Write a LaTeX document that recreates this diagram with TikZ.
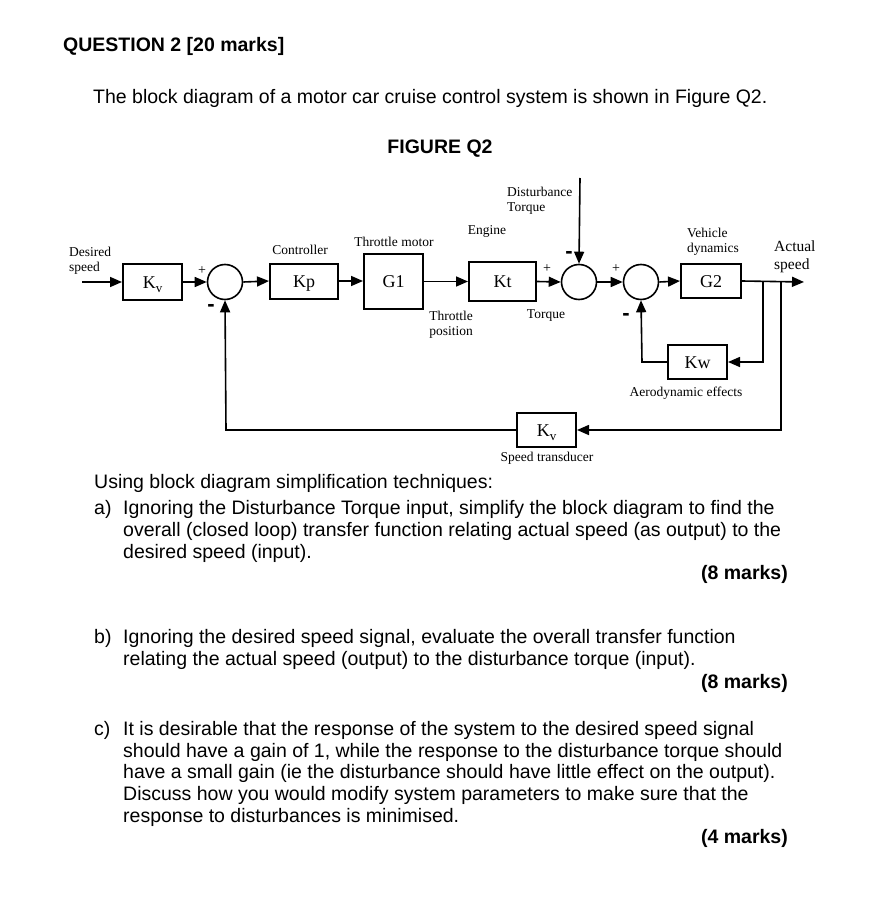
\documentclass[tikz,border=0pt]{standalone}
\usepackage{fontspec}
\setmainfont{Liberation Serif}
\newfontfamily\arialf{Liberation Sans}
\usetikzlibrary{arrows.meta}
\begin{document}
\begin{tikzpicture}[x=1pt,y=-1pt,
  blk/.style={draw, line width=2pt, inner sep=0pt, text height=12pt, text depth=0pt, font=\fontsize{18}{20}\selectfont},
  sumc/.style={circle, draw, line width=1.6pt, minimum size=35pt, inner sep=0pt},
  sig/.style={line width=1.6pt, -{Triangle[length=12pt,width=10pt]}},
  wire/.style={line width=1.6pt},
  lbl/.style={font=\fontsize{13.5}{15}\selectfont, inner sep=0pt},
  sgn/.style={font=\fontsize{14}{14}\selectfont, inner sep=0pt},
  mns/.style={font=\arialf\bfseries\fontsize{22}{22}\selectfont, inner sep=0pt},
  body/.style={font=\arialf\fontsize{19.5}{22.4}\selectfont, anchor=base west, inner sep=0pt},
  bodyb/.style={font=\arialf\bfseries\fontsize{19.5}{22.4}\selectfont, inner sep=0pt}]
\useasboundingbox (0,0) rectangle (876,904);

% ---- header text
\node[bodyb, anchor=base west] (title) at (63,52) {QUESTION 2 [20 marks]};
\node[body] (intro) at (93,104) {The block diagram of a motor car cruise control system is shown in Figure Q2.};
\node[bodyb, anchor=base] (fig) at (440,154) {FIGURE Q2};

% ---- blocks
\node[blk, minimum width=59pt, minimum height=36pt] (kv1) at (152.5,282) {K\raisebox{-0.5ex}{\fontsize{13}{13}\selectfont v}};
\node[sumc] (s1) at (225,282) {};
\node[blk, minimum width=68pt, minimum height=35pt] (kp) at (304,281) {Kp};
\node[blk, minimum width=59pt, minimum height=55pt] (g1) at (393.5,281) {G1};
\node[blk, minimum width=67pt, minimum height=39pt] (kt) at (502.5,281.5) {Kt};
\node[sumc] (s2) at (579,282) {};
\node[sumc] (s3) at (641,282) {};
\node[blk, minimum width=60pt, minimum height=34pt] (g2) at (711,281) {G2};
\node[blk, minimum width=59pt, minimum height=34pt] (kw) at (697.5,362) {Kw};
\node[blk, minimum width=59pt, minimum height=34pt] (kv2) at (546.5,430) {K\raisebox{-0.5ex}{\fontsize{13}{13}\selectfont v}};

% ---- coordinates
\coordinate (in) at (82,282);
\coordinate (out) at (804,282);
\coordinate (dist) at (580,178);
\coordinate (b1) at (763,282);
\coordinate (b1d) at (763,362);
\coordinate (kwl) at (642,362);
\coordinate (b2) at (781,282);
\coordinate (b2d) at (781,430);
\coordinate (kvl) at (226,430);

% ---- connectors
\draw[sig] (in) -- (kv1.west);
\draw[sig] (kv1.east) -- (s1.west);
\draw[sig] (s1.east) -- (kp.west);
\draw[sig] (kp.east) -- (g1.west);
\draw[sig] (g1.east |- kt.west) -- (kt.west);
\draw[sig] (kt.east) -- (s2.west);
\draw[sig] (s2.east) -- (s3.west);
\draw[sig] (s3.east) -- (g2.west);
\draw[sig] (g2.east) -- (out);
\draw[sig] (dist) -- (s2.north);
\draw[sig] (b1) -- (b1d) -- (kw.east);
\draw[sig] (kw.west) -- (kwl) -- (s3.south);
\draw[sig] (b2) -- (b2d) -- (kv2.east);
\draw[sig] (kv2.west) -- (kvl) -- (s1.south);

% ---- diagram labels
\node[lbl, anchor=west, align=left] (desired) at (69,260.5) {Desired\\speed};
\node[lbl] (ctrl) at (300,250) {Controller};
\node[lbl] (thm) at (394,242) {Throttle motor};
\node[lbl] (eng) at (487,231) {Engine};
\node[lbl, anchor=west, align=left] (dt) at (507,201) {Disturbance\\Torque};
\node[lbl, anchor=west, align=left] (vd) at (687,241.5) {Vehicle\\dynamics};
\node[lbl, anchor=west, align=left, font=\fontsize{15.5}{18}\selectfont] (as) at (774,257) {Actual\\speed};
\node[lbl, align=center] (tp) at (451,324.5) {Throttle\\position};
\node[lbl] (tq) at (546,316) {Torque};
\node[lbl] (aero) at (686,393) {Aerodynamic effects};
\node[lbl] (st) at (547,458) {Speed transducer};
\node[sgn] (p1) at (202,271) {+};
\node[sgn] (p2) at (547,269) {+};
\node[sgn] (p3) at (616,269) {+};
\node[mns] (m1) at (211,308) {-};
\node[mns] (m2) at (569,255) {-};
\node[mns] (m3) at (626,317) {-};

% ---- question text
\node[body] (q0) at (94,488) {Using block diagram simplification techniques:};
\node[body] (qa) at (94,514) {a)};
\node[body] (qa1) at (123,514) {Ignoring the Disturbance Torque input, simplify the block diagram to find the};
\node[body] (qa2) at (123,536) {overall (closed loop) transfer function relating actual speed (as output) to the};
\node[body] (qa3) at (123,558) {desired speed (input).};
\node[bodyb, anchor=base east] (ma) at (788,579) {(8 marks)};
\node[body] (qb) at (94,643) {b)};
\node[body] (qb1) at (123,643) {Ignoring the desired speed signal, evaluate the overall transfer function};
\node[body] (qb2) at (123,665) {relating the actual speed (output) to the disturbance torque (input).};
\node[bodyb, anchor=base east] (mb) at (788,688) {(8 marks)};
\node[body] (qc) at (94,735) {c)};
\node[body] (qc1) at (123,735) {It is desirable that the response of the system to the desired speed signal};
\node[body] (qc2) at (123,757) {should have a gain of 1, while the response to the disturbance torque should};
\node[body] (qc3) at (123,778) {have a small gain (ie the disturbance should have little effect on the output).};
\node[body] (qc4) at (123,800) {Discuss how you would modify system parameters to make sure that the};
\node[body] (qc5) at (123,822) {response to disturbances is minimised.};
\node[bodyb, anchor=base east] (mc) at (788,843) {(4 marks)};
\end{tikzpicture}
\end{document}
